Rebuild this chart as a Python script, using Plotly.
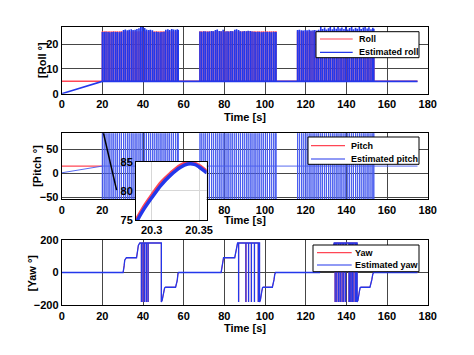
import plotly.graph_objects as go

# ---------------- data ----------------
time_end = 175.0

# spike instants (s) of the three manoeuvre bursts (shared by roll and pitch)
spike_t = [
    20.0, 20.9, 21.8, 22.8, 23.7, 24.7, 25.6, 26.6, 27.5, 28.5, 29.4, 30.4, 31.3, 32.3,
    33.2, 34.2, 35.1, 36.1, 37.0, 38.0, 38.9, 39.8, 40.8, 41.7, 42.7, 43.6, 44.6, 45.5,
    46.5, 47.4, 48.4, 49.3, 50.3, 51.2, 52.2, 53.1, 54.1, 55.0, 56.0, 56.9, 57.3,
    68.0, 68.9, 69.9, 70.8, 71.8, 72.7, 73.7, 74.6, 75.6, 76.5, 77.5, 78.4, 79.4, 80.3,
    81.3, 82.2, 83.2, 84.1, 85.1, 86.0, 87.0, 87.9, 88.9, 89.8, 90.8, 91.7, 92.7, 93.6,
    94.6, 95.5, 96.5, 97.4, 98.4, 99.3, 100.3, 101.2, 102.2, 103.1, 104.1, 105.0, 105.4,
    116.0, 116.9, 117.9, 118.8, 119.8, 120.7, 121.7, 122.6, 123.6, 124.5, 125.5, 126.4,
    127.4, 128.3, 129.3, 130.2, 131.2, 132.1, 133.1, 134.0, 135.0, 135.9, 136.9, 137.8,
    138.8, 139.7, 140.7, 141.6, 142.6, 143.5, 144.5, 145.4, 146.4, 147.3, 148.3, 149.2,
    150.2, 151.1, 152.1, 153.0, 153.5,
]
# estimated roll spike peaks (deg)
est_roll_peak = [
    25.0, 25.0, 25.1, 25.0, 24.9, 25.0, 25.1, 25.0, 25.0, 24.9, 25.1, 25.8, 26.0, 25.7,
    25.9, 26.1, 25.8, 25.9, 26.2, 26.5, 27.2, 27.0, 26.6, 26.0, 25.8, 25.9, 25.7, 25.0,
    25.1, 25.0, 24.9, 25.0, 25.1, 25.9, 26.1, 25.8, 26.2, 26.0, 25.9, 26.1, 25.8,
    25.2, 25.1, 25.3, 25.2, 25.1, 25.2, 25.4, 25.3, 25.8, 26.0, 25.4, 25.3, 25.9, 25.2,
    25.3, 25.2, 25.4, 25.3, 25.9, 26.1, 25.8, 25.3, 25.2, 25.4, 25.3, 25.5, 25.4, 25.2,
    25.1, 25.0, 25.1, 25.0, 24.9, 25.0, 25.1, 25.0, 25.0, 24.9, 25.1, 25.0, 25.0,
    25.8, 25.9, 25.7, 25.6, 25.8, 25.7, 25.9, 25.6, 25.7, 25.8, 25.6, 25.9, 27.0, 26.2,
    26.8, 26.0, 26.5, 27.2, 26.1, 26.9, 26.3, 27.0, 26.4, 26.8, 26.2, 27.1, 26.0, 26.6,
    27.3, 26.1, 26.7, 26.3, 27.0, 26.2, 26.8, 27.2, 26.4, 26.9, 26.1, 26.7, 26.3,
]
roll_true_peak = 25.3
roll_base = 5.0
est_roll_start = 0.0
spike_begin = 20.0

pitch_base = 15.0
est_pitch_start = 1.0
pitch_spike_top = 95.0
pitch_spike_bottom = -95.0

# yaw signal (true and estimated coincide)
yaw_t = [
    0, 30.2, 30.7, 31.0, 31.8, 36.8, 37.3, 37.7, 38.4,
    39.2, 39.2, 39.2, 40.0, 40.0, 40.0, 40.8, 40.8, 40.8, 41.7, 41.7, 41.7, 42.5, 42.5, 42.5,
    49.0, 49.0, 49.4, 49.7, 50.2, 50.6, 51.0, 56.0, 56.5, 56.8, 57.2, 57.5,
    78.4, 78.8, 79.1, 79.6, 85.1, 85.6, 86.0, 86.5,
    87.0, 87.0, 87.0, 90.6, 90.6, 90.6, 91.9, 91.9, 91.9, 93.3, 93.3, 93.3,
    94.8, 94.8, 94.8, 96.7, 96.7, 96.7,
    97.3, 97.3, 97.7, 98.0, 98.4, 98.8, 99.2, 103.6, 104.1, 104.4, 104.8, 105.2,
    126.8, 127.2, 127.5, 128.0, 132.6, 133.1, 133.5, 134.0,
    134.5, 134.5, 134.5, 135.3, 135.3, 135.3, 136.2, 136.2, 136.2, 137.0, 137.0, 137.0,
    137.9, 137.9, 137.9, 138.7, 138.7, 138.7, 139.6, 139.6, 139.6, 141.3, 141.3, 141.3,
    141.9, 141.9, 141.9, 142.7, 142.7, 142.7, 143.3, 143.3, 143.3, 144.3, 144.3, 144.3,
    144.9, 144.9, 144.9,
    145.3, 145.3, 145.7, 146.0, 146.4, 146.8, 147.2, 151.6, 152.1, 152.5, 153.0, 153.4, 175.0,
]
yaw_v = [
    0, 0, 40, 75, 90, 90, 130, 165, 180,
    180, -180, 180, 180, -180, 180, 180, -180, 180, 180, -180, 180, 180, -180, 180,
    180, -180, -170, -135, -120, -95, -90, -90, -70, -50, -5, 0,
    0, 40, 75, 90, 90, 130, 165, 180,
    180, -180, 180, 180, -180, 180, 180, -180, 180, 180, -180, 180,
    180, -180, 180, 180, -180, 180,
    180, -180, -170, -135, -115, -92, -90, -90, -70, -45, -10, 0,
    0, 40, 75, 90, 90, 130, 165, 180,
    180, -180, 180, 180, -180, 180, 180, -180, 180, 180, -180, 180,
    180, -180, 180, 180, -180, 180, 180, -180, 180, 180, -180, 180,
    180, -180, 180, 180, -180, 180, 180, -180, 180, 180, -180, 180,
    180, -180, 180,
    180, -180, -170, -135, -115, -92, -90, -90, -70, -45, -10, 0, 0,
]

# zoomed detail of the first pitch spike
inset_t = [20.2835, 20.29, 20.30, 20.31, 20.32, 20.33, 20.338, 20.345, 20.35, 20.358]
inset_pitch = [75.0, 76.9, 79.3, 81.5, 83.1, 84.4, 84.95, 84.8, 84.4, 83.4]
inset_est_pitch = [74.5, 76.4, 78.8, 81.0, 82.7, 84.0, 84.6, 84.55, 84.1, 83.1]

# zoom connector drawn on the pitch axes
connector_t = [20.3, 27.0]
connector_v = [88.0, -35.0]

x_ticks = [0, 20, 40, 60, 80, 100, 120, 140, 160, 180]

# ---------------- figure ----------------
W, H = 474, 355
RED = "rgb(255,70,85)"
BLUE = "rgb(35,55,235)"
PITCH_BLUE = "rgb(70,90,238)"
FONT = "Liberation Sans, Arial, sans-serif"


def px_x(p):
    return p / W


def px_y(p):
    return 1 - p / H


def spikes(base, start_v, peaks_lo, peaks_hi):
    xs, ys = [0.0, spike_begin], [start_v, base]
    for i, t in enumerate(spike_t):
        lo = peaks_lo[i] if isinstance(peaks_lo, list) else peaks_lo
        hi = peaks_hi[i] if isinstance(peaks_hi, list) else peaks_hi
        if lo == base:
            xs += [t, t, t]
            ys += [base, hi, base]
        else:
            xs += [t, t, t, t]
            ys += [base, hi, lo, base]
    xs.append(time_end)
    ys.append(base)
    return xs, ys


fig = go.Figure()

# --- roll ---
rx, ry = spikes(roll_base, roll_base, roll_base, roll_true_peak)
fig.add_trace(go.Scatter(x=rx, y=ry, mode="lines", name="Roll", line=dict(color=RED, width=1.5),
                         xaxis="x", yaxis="y"))
ex, ey = spikes(roll_base, est_roll_start, roll_base, est_roll_peak)
fig.add_trace(go.Scatter(x=ex, y=ey, mode="lines", name="Estimated roll", line=dict(color=BLUE, width=1.6),
                         xaxis="x", yaxis="y"))

# --- pitch ---
fig.add_trace(go.Scatter(x=[0, spike_begin], y=[pitch_base, pitch_base], mode="lines", name="Pitch",
                         line=dict(color=RED, width=1.2), xaxis="x2", yaxis="y2"))
px_, py_ = spikes(pitch_base, est_pitch_start, pitch_spike_bottom, pitch_spike_top)
fig.add_trace(go.Scatter(x=px_, y=py_, mode="lines", name="Estimated pitch",
                         line=dict(color=PITCH_BLUE, width=0.9),
                         xaxis="x2", yaxis="y2"))
fig.add_trace(go.Scatter(x=connector_t, y=connector_v, mode="lines", name="zoom",
                         line=dict(color="black", width=1.5), xaxis="x2", yaxis="y2"))

# --- yaw ---
fig.add_trace(go.Scatter(x=yaw_t, y=yaw_v, mode="lines", name="Yaw", line=dict(color=RED, width=1),
                         xaxis="x3", yaxis="y3"))
fig.add_trace(go.Scatter(x=yaw_t, y=yaw_v, mode="lines", name="Estimated yaw",
                         line=dict(color=BLUE, width=1.3), xaxis="x3", yaxis="y3"))

# --- inset ---
fig.add_trace(go.Scatter(x=inset_t, y=inset_pitch, mode="lines", name="Pitch (zoom)",
                         line=dict(color=RED, width=3, shape="spline"), xaxis="x4", yaxis="y4"))
fig.add_trace(go.Scatter(x=inset_t, y=inset_est_pitch, mode="lines", name="Estimated pitch (zoom)",
                         line=dict(color=BLUE, width=3.5, shape="spline"), xaxis="x4", yaxis="y4"))

xdom = [px_x(61.7), px_x(427.7)]
main_x = dict(domain=xdom, range=[0, 180], tickvals=x_ticks, showgrid=True,
              gridcolor="rgb(70,70,70)", gridwidth=1, showline=True, mirror=True,
              linecolor="black", linewidth=1, zeroline=False, ticks="", automargin=False)
main_y = dict(showgrid=True, gridcolor="rgb(70,70,70)", gridwidth=1, showline=True, mirror=True,
              linecolor="black", linewidth=1, zeroline=False, ticks="", automargin=False)

fig.update_layout(
    width=W, height=H,
    margin=dict(l=0, r=0, t=0, b=0),
    paper_bgcolor="white", plot_bgcolor="white",
    showlegend=False,
    font=dict(family=FONT, size=11, color="black", weight="bold"),
    xaxis=dict(main_x, anchor="y"),
    yaxis=dict(main_y, domain=[px_y(93.7), px_y(26.7)], range=[0, 27.1], tickvals=[0, 10, 20], anchor="x"),
    xaxis2=dict(main_x, anchor="y2"),
    yaxis2=dict(main_y, domain=[px_y(199.3), px_y(133.3)], range=[-54.2, 83.3], tickvals=[-50, 0, 50], anchor="x2"),
    xaxis3=dict(main_x, anchor="y3"),
    yaxis3=dict(main_y, domain=[px_y(305.3), px_y(239.7)], range=[-200, 200], tickvals=[-200, 0, 200], anchor="x3"),
    xaxis4=dict(domain=[px_x(136), px_x(206.7)], range=[20.2835, 20.358], tickvals=[20.3, 20.35],
                ticktext=["20.3", "20.35"], showgrid=True, gridcolor="rgb(215,215,215)",
                showline=True, mirror=True, linecolor="black", linewidth=1, zeroline=False,
                ticks="", anchor="y4", automargin=False),
    yaxis4=dict(domain=[px_y(220), px_y(161.7)], range=[75, 85], tickvals=[75, 80, 85],
                showgrid=True, gridcolor="rgb(215,215,215)", showline=True, mirror=True,
                linecolor="black", linewidth=1, zeroline=False, ticks="", anchor="x4", automargin=False),
)

title_font = dict(size=11, color="black", family=FONT, weight="bold")
xc = (xdom[0] + xdom[1]) / 2
for yp in (116.7, 220.0, 328.3):
    fig.add_annotation(text="Time [s]", x=xc, y=px_y(yp), xref="paper", yref="paper",
                       showarrow=False, xanchor="center", yanchor="middle", font=title_font)
for txt, xp, yp in (("[Roll °]", 41.7, 60.2), ("[Pitch °]", 37.5, 166.3), ("[Yaw °]", 31.7, 272.5)):
    fig.add_annotation(text=txt, x=px_x(xp), y=px_y(yp), xref="paper", yref="paper",
                       showarrow=False, xanchor="center", yanchor="middle", textangle=-90,
                       font=title_font)

# compact boxed legends (box px: left, top, right, bottom; line x0, x1; text x; rows)
legend_specs = [
    ((316, 31.7, 419, 57.7), (320, 352.7), 356.7, [(39.0, "Roll", RED), (52.3, "Estimated roll", BLUE)]),
    ((308, 137.0, 419, 164.3), (311, 345), 349.3, [(145.7, "Pitch", RED), (159.0, "Estimated pitch", BLUE)]),
    ((313, 245.0, 419, 271.7), (317, 351.7), 353.3, [(252.7, "Yaw", RED), (265.0, "Estimated yaw", BLUE)]),
]
for (l, t, r, b), (lx0, lx1), tx, rows in legend_specs:
    fig.add_shape(type="rect", xref="paper", yref="paper", x0=px_x(l), x1=px_x(r), y0=px_y(b), y1=px_y(t),
                  fillcolor="white", line=dict(color="black", width=1), layer="above")
    for yy, label, col in rows:
        fig.add_shape(type="line", xref="paper", yref="paper", x0=px_x(lx0), x1=px_x(lx1),
                      y0=px_y(yy), y1=px_y(yy), line=dict(color=col, width=1.2), layer="above")
        fig.add_annotation(text=label, x=px_x(tx), y=px_y(yy), xref="paper", yref="paper",
                           showarrow=False, xanchor="left", yanchor="middle",
                           font=dict(size=9, color="black", family=FONT, weight="bold"))

fig.write_html("out.html", config={"displayModeBar": False},
               post_script="document.body.style.margin='0px';")
